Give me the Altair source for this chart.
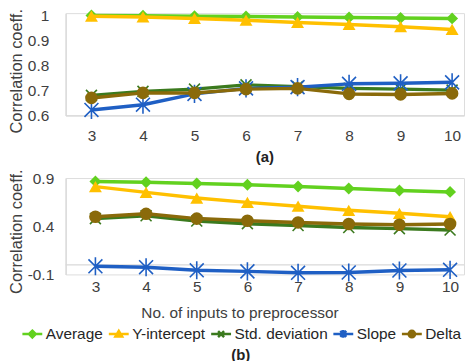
import altair as alt
import pandas as pd

x_vals = [3, 4, 5, 6, 7, 8, 9, 10]
series_names = ["Average", "Y-intercept", "Std. deviation", "Slope", "Delta"]
colors = ["#62d11f", "#ffc000", "#3b7a1e", "#1f5fc4", "#8a6a0a"]

# Panel (a)
a_average = [0.999, 0.998, 0.996, 0.995, 0.993, 0.991, 0.989, 0.987]
a_yint = [0.996, 0.993, 0.987, 0.980, 0.971, 0.963, 0.954, 0.943]
a_std = [0.680, 0.696, 0.705, 0.722, 0.715, 0.708, 0.705, 0.701]
a_slope = [0.622, 0.643, 0.686, 0.708, 0.713, 0.726, 0.728, 0.732]
a_delta = [0.670, 0.690, 0.690, 0.705, 0.708, 0.686, 0.684, 0.688]

# Panel (b)
b_average = [0.875, 0.866, 0.853, 0.840, 0.822, 0.800, 0.780, 0.765]
b_yint = [0.820, 0.760, 0.700, 0.655, 0.615, 0.572, 0.540, 0.505]
b_std = [0.485, 0.515, 0.460, 0.432, 0.413, 0.392, 0.380, 0.365]
b_slope = [-0.015, -0.024, -0.057, -0.068, -0.083, -0.080, -0.059, -0.052]
b_delta = [0.505, 0.535, 0.485, 0.462, 0.445, 0.428, 0.420, 0.428]

y_ticks_a = [0.6, 0.7, 0.8, 0.9, 1.0]
y_ticks_b = [-0.1, 0.4, 0.9]

FONT = "Liberation Sans"
TXT = "#404040"
AXC = "#d9d9d9"
LAB = 15.5

point_styles = {
    "Average": dict(shape="diamond", size=144, filled=True),
    "Y-intercept": dict(shape="triangle-up", size=169, filled=True),
    "Std. deviation": dict(shape="M-1,-1L1,1M-1,1L1,-1", size=121, filled=False, strokeWidth=1.6),
    "Slope": dict(shape="M-1,-1L1,1M-1,1L1,-1M0,-1.3L0,1.3", size=196, filled=False, strokeWidth=1.6),
    "Delta": dict(shape="circle", size=160, filled=True),
}

legend_paths = [
    "M-1,0L1,0M0,-0.34L0.34,0L0,0.34L-0.34,0Z",
    "M-1,0L1,0M0,-0.32L0.34,0.26L-0.34,0.26Z",
    "M-1,0L1,0M-0.3,-0.3L0.3,0.3M-0.3,0.3L0.3,-0.3",
    "M-1,0L1,0M-0.3,-0.3L0.3,0.3M-0.3,0.3L0.3,-0.3M0,-0.38L0,0.38",
    "M-0.32,0A0.32,0.32 0 1,0 0.32,0A0.32,0.32 0 1,0 -0.32,0ZM-1,0L1,0",
]


def series_df(values):
    return pd.DataFrame({"n": x_vals, "r": values})


def panel_layers(value_lists, x_enc, y_enc):
    layers = []
    for name, col, vals in zip(series_names, colors, value_lists):
        d = series_df(vals)
        base = alt.Chart(d).encode(x=x_enc, y=y_enc)
        layers.append(base.mark_line(color=col, strokeWidth=3.5, strokeJoin="round"))
        st = dict(point_styles[name])
        filled = st.pop("filled")
        layers.append(base.mark_point(color=col, filled=filled, opacity=1, **st))
    return layers


# ---------- panel (a) ----------
xa = alt.X(
    "n:Q",
    scale=alt.Scale(domain=[2.4987, 10.231], nice=False, zero=False),
    axis=alt.Axis(
        values=x_vals, title=None, ticks=False, grid=False,
        labelFont=FONT, labelFontSize=LAB, labelColor=TXT,
        labelBaseline="middle", labelPadding=20,
        domainColor=AXC, domainWidth=1.3,
    ),
)
ya = alt.Y(
    "r:Q",
    scale=alt.Scale(domain=[0.6, 1.008], nice=False, zero=False),
    axis=alt.Axis(
        values=y_ticks_a, format=".1~f", ticks=False, grid=False,
        labelFont=FONT, labelFontSize=LAB, labelColor=TXT, labelPadding=17,
        domainColor=AXC, domainWidth=1.3,
        title="Correlation coeff.", titleFont=FONT, titleFontSize=16.5,
        titleFontWeight="normal", titleColor=TXT,
        titleX=-49, titleY=58, titleBaseline="middle",
    ),
)
panel_a = alt.layer(
    *panel_layers([a_average, a_yint, a_std, a_slope, a_delta], xa, ya)
).properties(
    width=401, height=103,
    title=alt.TitleParams("(a)", orient="bottom", anchor="middle", font=FONT,
                          fontSize=15, fontWeight="bold", color="#222222", offset=6),
)

# ---------- panel (b) ----------
xb = alt.X(
    "n:Q",
    scale=alt.Scale(domain=[2.412, 10.275], nice=False, zero=False),
    axis=alt.Axis(
        values=x_vals, ticks=False, grid=False, domain=False,
        labelFont=FONT, labelFontSize=LAB, labelColor=TXT,
        labelBaseline="middle", labelPadding=12,
        title="No. of inputs to preprocessor", titleFont=FONT, titleFontSize=15.5,
        titleFontWeight="normal", titleColor=TXT,
        titleX=175, titleY=38, titleBaseline="middle",
    ),
)
yb = alt.Y(
    "r:Q",
    scale=alt.Scale(domain=[-0.1, 0.91], nice=False, zero=False),
    axis=alt.Axis(
        values=y_ticks_b, ticks=False, grid=False,
        labelExpr="datum.value < 0 ? '-' + format(-datum.value, '.1f') : format(datum.value, '.1f')",
        labelFont=FONT, labelFontSize=LAB, labelColor=TXT, labelPadding=12,
        domainColor=AXC, domainWidth=1.3,
        title="Correlation coeff.", titleFont=FONT, titleFontSize=16.5,
        titleFontWeight="normal", titleColor=TXT,
        titleX=-49, titleY=53.5, titleBaseline="middle",
    ),
)

zero_line = alt.Chart(pd.DataFrame({"r": [0.0]})).mark_rule(
    color=AXC, strokeWidth=1.3
).encode(y=alt.Y("r:Q"))

leg = alt.Legend(
    title=None, orient="none", direction="horizontal", legendX=-45, legendY=145,
    symbolSize=400, symbolStrokeWidth=2.5, labelFont=FONT, labelFontSize=15.5,
    labelColor="#262626", labelOffset=2, columnPadding=0, padding=0,
)
legend_layer = alt.Chart(pd.DataFrame({"series": series_names})).transform_filter(
    "false"
).mark_point(strokeWidth=2.5, opacity=1).encode(
    fill=alt.Fill("series:N", scale=alt.Scale(domain=series_names, range=colors), legend=leg),
    stroke=alt.Stroke("series:N", scale=alt.Scale(domain=series_names, range=colors), legend=leg),
    shape=alt.Shape("series:N", scale=alt.Scale(domain=series_names, range=legend_paths), legend=leg),
)

panel_b = alt.layer(
    zero_line, *panel_layers([b_average, b_yint, b_std, b_slope, b_delta], xb, yb), legend_layer
).properties(width=401, height=97)

chart = alt.vconcat(panel_a, panel_b, spacing=3).resolve_scale(
    fill="independent", stroke="independent", shape="independent"
).resolve_legend(
    fill="independent", stroke="independent", shape="independent"
).properties(
    padding={"left": 0, "top": -2, "right": 0, "bottom": 0},
    title=alt.TitleParams("(b)", orient="bottom", anchor="middle", font=FONT,
                          fontSize=15, fontWeight="bold", color="#222222", offset=5, dx=4),
).configure_view(stroke=None).configure(background="white")

chart.save("out.html", embed_options={"renderer": "svg", "actions": False})
